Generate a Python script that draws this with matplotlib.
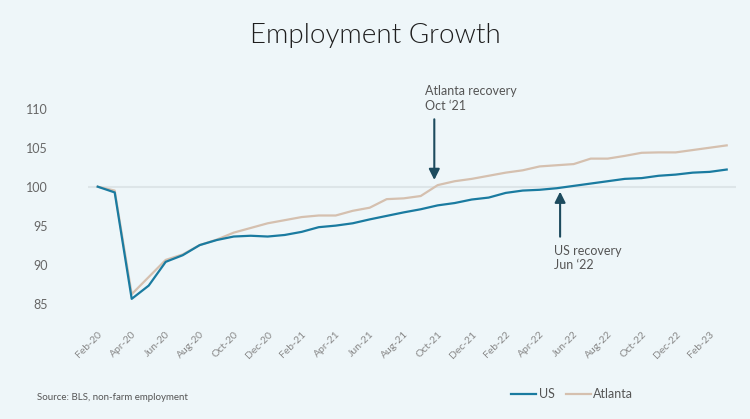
import pandas as pd
import matplotlib
matplotlib.use("Agg")
import matplotlib.pyplot as plt
from matplotlib.transforms import ScaledTranslation

# Monthly index, Feb 2020 = 100
months = pd.date_range("2020-02-01", "2023-03-01", freq="MS")
us = [100.0, 99.26, 85.6, 87.3, 90.35, 91.2, 92.5, 93.15, 93.6, 93.7, 93.6, 93.8,
      94.2, 94.8, 95.0, 95.3, 95.8, 96.25, 96.7, 97.1, 97.6, 97.9, 98.35, 98.6,
      99.2, 99.5, 99.6, 99.8, 100.1, 100.4, 100.7, 101.0, 101.1, 101.4, 101.55, 101.8,
      101.9, 102.2]
atlanta = [100.0, 99.5, 86.2, 88.4, 90.6, 91.3, 92.5, 93.2, 94.1, 94.7, 95.3, 95.7,
           96.1, 96.3, 96.3, 96.9, 97.3, 98.4, 98.5, 98.8, 100.2, 100.7, 101.0, 101.4,
           101.8, 102.1, 102.6, 102.75, 102.9, 103.6, 103.6, 103.95, 104.35, 104.4, 104.4, 104.7,
           105.0, 105.3]
tick_labels = ["Feb-20", "Apr-20", "Jun-20", "Aug-20", "Oct-20", "Dec-20",
               "Feb-21", "Apr-21", "Jun-21", "Aug-21", "Oct-21", "Dec-21",
               "Feb-22", "Apr-22", "Jun-22", "Aug-22", "Oct-22", "Dec-22", "Feb-23"]
y_ticks = [85, 90, 95, 100, 105, 110]

bg = "#EEF6F9"
us_col = "#1A7BA0"
atl_col = "#D5C0AF"
arrow_col = "#1D4B5E"
txt_col = "#555555"

plt.rcParams["font.family"] = ["Lato", "DejaVu Sans"]

fig = plt.figure(figsize=(7.5, 4.19), dpi=100, facecolor=bg)
ax = fig.add_axes([0.1178, 0.2198, 0.8636, 0.5764], facecolor=bg)

x = list(range(len(months)))
ax.axhline(100, color="#DDE5E8", lw=1.5, zorder=1)
ax.plot(x, us, color=us_col, lw=1.6, label="US", zorder=3)
ax.plot(x, atlanta, color=atl_col, lw=1.6, label="Atlanta", zorder=2)

ax.set_xlim(-0.55, len(months) - 0.45)
ax.set_ylim(82, 113)
ax.set_xticks(x[::2][:len(tick_labels)])
ax.set_xticklabels(tick_labels, rotation=45, ha="right", rotation_mode="anchor",
                   fontsize=7.5, color="#888888")
# nudge the slanted month labels a little to the left
shift = ScaledTranslation(-0.07, 0, fig.dpi_scale_trans)
for lbl in ax.get_xticklabels():
    lbl.set_transform(lbl.get_transform() + shift)
ax.set_yticks(y_ticks)
ax.set_yticklabels([str(v) for v in y_ticks], fontsize=9, color="#666666")
ax.tick_params(axis="y", length=0, pad=29)
ax.tick_params(axis="x", length=0, pad=2)
for s in ax.spines.values():
    s.set_visible(False)

# Recovery arrows and notes
ax.annotate("", xy=(19.8, 100.86), xytext=(19.8, 108.65),
            arrowprops=dict(arrowstyle="-|>", color=arrow_col, lw=1.5,
                            mutation_scale=16, shrinkA=0, shrinkB=0))
ax.text(19.25, 112.28, "Atlanta recovery", fontsize=9, color=txt_col, va="center", ha="left")
ax.text(19.25, 110.4, "Oct \u201821", fontsize=9, color=txt_col, va="center", ha="left")

ax.annotate("", xy=(27.2, 99.36), xytext=(27.2, 93.58),
            arrowprops=dict(arrowstyle="-|>", color=arrow_col, lw=1.5,
                            mutation_scale=16, shrinkA=0, shrinkB=0))
ax.text(26.86, 91.78, "US recovery", fontsize=9, color=txt_col, va="center", ha="left")
ax.text(26.86, 89.95, "Jun \u201822", fontsize=9, color=txt_col, va="center", ha="left")

fig.text(0.5, 1 - 35 / 419, "Employment Growth", fontsize=20, fontweight=300,
         color="#1E1E1E", ha="center", va="center")
fig.text(37 / 750, 1 - 397 / 419, "Source: BLS, non-farm employment", fontsize=7,
         color=txt_col, ha="left", va="center")

fig.legend(loc="center left", bbox_to_anchor=(500 / 750, 1 - 394 / 419), ncol=2,
           frameon=False, fontsize=9, handlelength=2.0, handletextpad=0.2,
           columnspacing=0.9, labelcolor=txt_col)

fig.savefig("out.png", dpi=100, facecolor=bg)
